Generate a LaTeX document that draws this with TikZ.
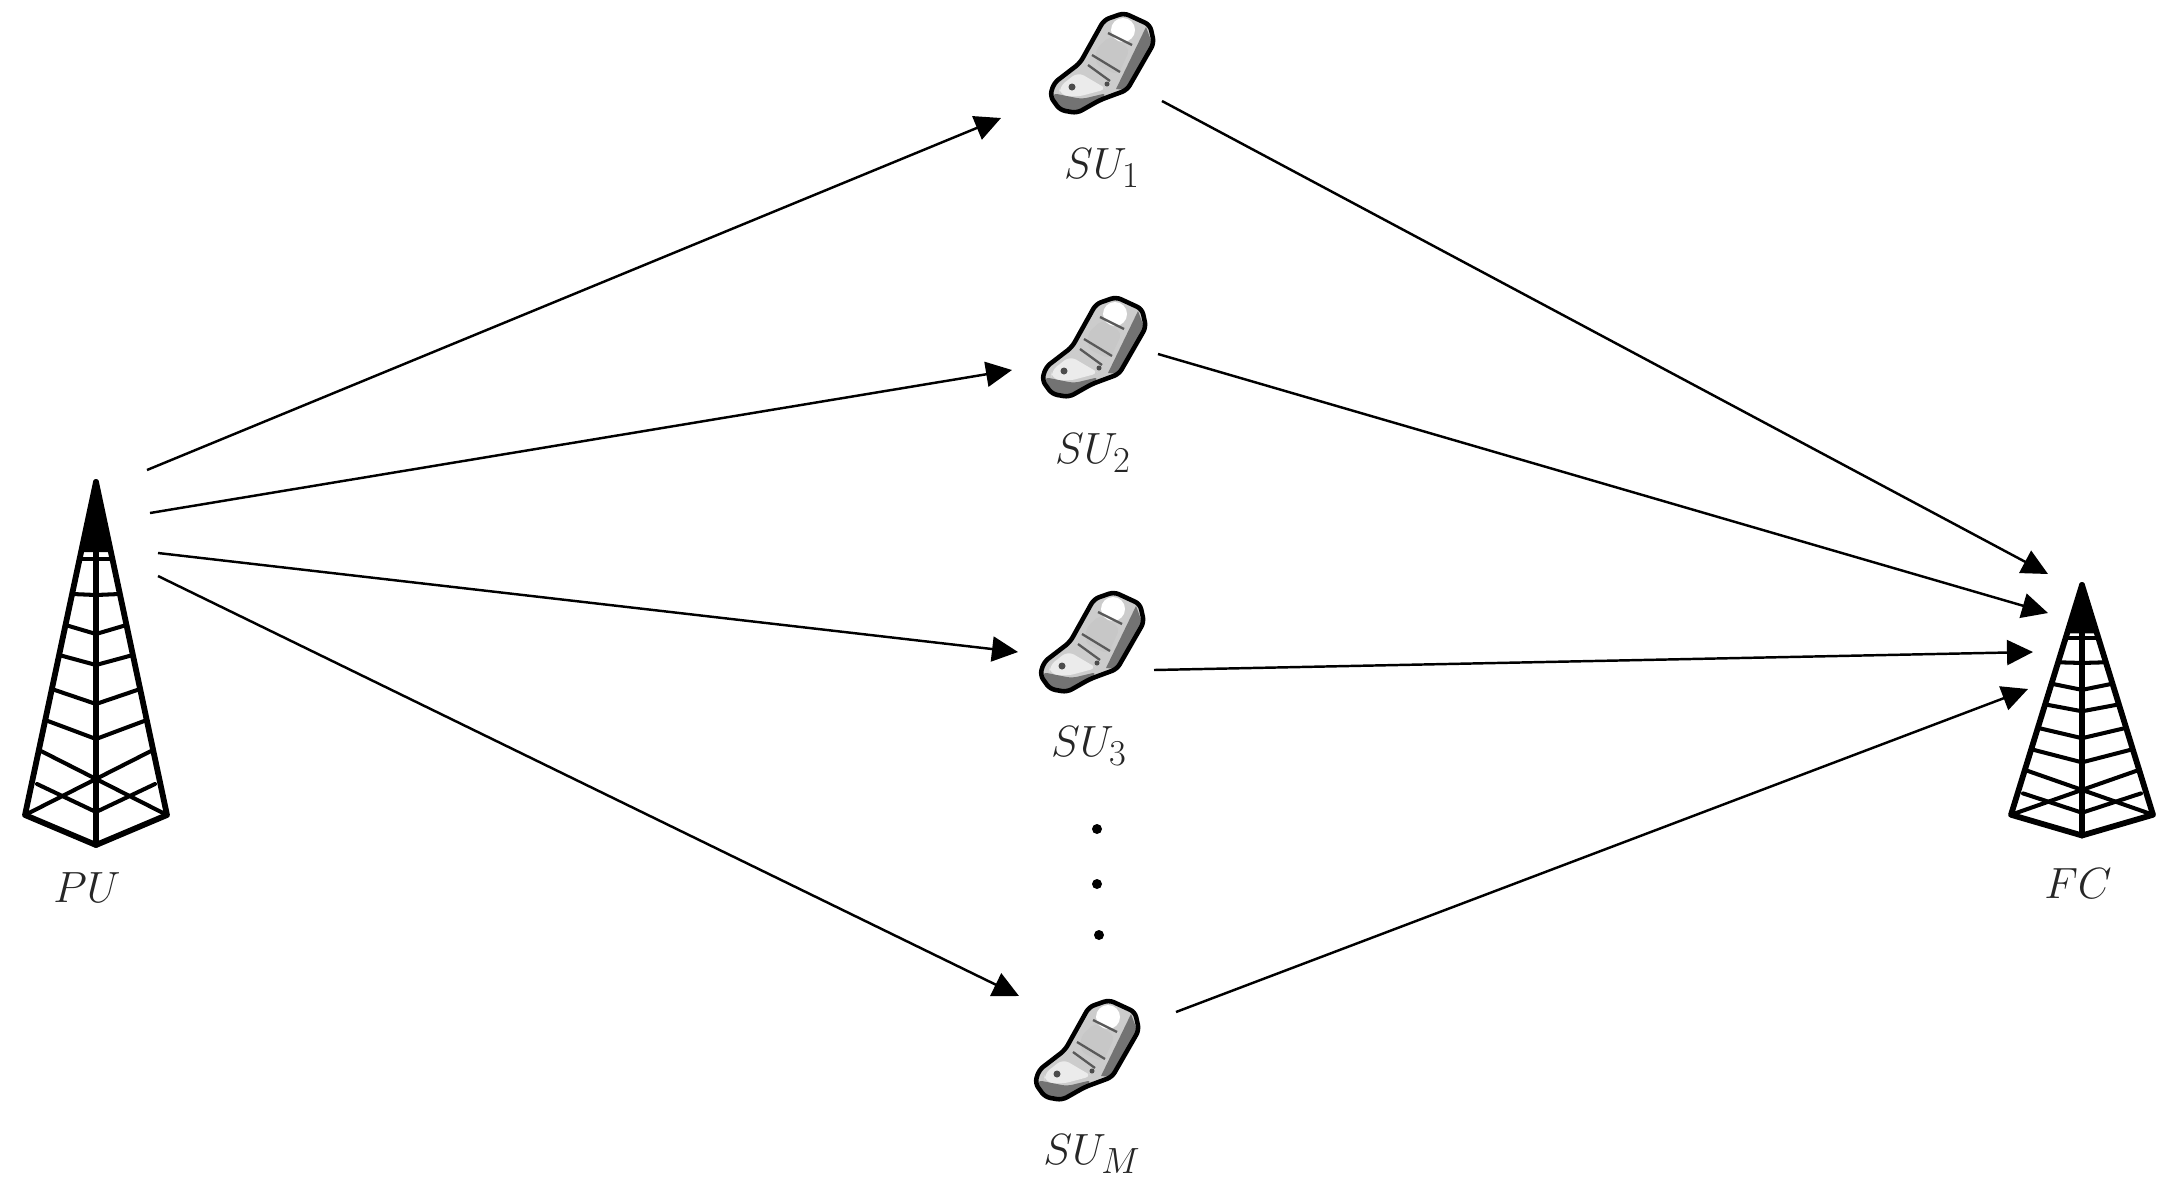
\documentclass[tikz,border=0pt]{standalone}
\usepackage{amsmath}
\usetikzlibrary{arrows.meta}

\begin{document}
\begin{tikzpicture}[x=0.02cm,y=-0.02cm]
	\tikzstyle{link}=[line width=1.4pt,-{Triangle[length=0.52cm,width=0.5cm]}]
	\tikzstyle{lbl}=[inner sep=0pt,text=black!85,font=\Huge]
	\tikzstyle{dot}=[circle,fill=black,minimum size=0.2cm,inner sep=0pt]
	\tikzstyle{thick edge}=[line width=3.3pt,line join=round,line cap=round]
	\tikzstyle{thin edge}=[line width=2.3pt,line cap=round]
	\tikzset{
		tower/.pic={
			\fill (0,0) -- (-15,70) -- (15,70) -- cycle;
			\foreach \yy/\cc in {77/77,112/113,143/152,173/183,207/222,238/257}
				\draw[thin edge] ({-.2132*\yy},\yy) -- (0,\cc) -- ({.2132*\yy},\yy);
			\draw[thin edge] (-57,268) -- (71,333);
			\draw[thin edge] (57,268) -- (-71,333);
			\draw[thin edge] (-59,302) -- (0,330) -- (59,302);
			\draw[thick edge] (0,0) -- (-71,333) -- (0,363) -- (71,333) -- cycle;
			\draw[thick edge] (0,0) -- (0,363);
		},
		phone/.pic={
			\fill[black!20,rounded corners=3pt] (-48,20) -- (-22,0) -- (2,-43) -- (22,-50) -- (48,-38) -- (52,-20) -- (25,27) -- (-2,37) -- (-25,50) -- (-42,47) -- (-52,33) -- cycle;
			\fill[black!55,rounded corners=3pt] (-50,30) -- (-20,36) -- (5,30) -- (-2,37) -- (-25,50) -- (-42,47) -- cycle;
			\fill[black!55] (44,-36) -- (50,-20) -- (25,27) -- (14,26) -- cycle;
			\fill[white] (21,-33) circle (12);
			\fill[black!22,rounded corners=3pt] (-6,-14) -- (8,-27) -- (28,-14) -- (16,12) -- (-6,2) -- cycle;
			\fill[black!8,rounded corners=4pt] (-43,24) -- (-24,9) -- (-2,22) -- (5,26) -- (-25,34) -- (-42,32) -- cycle;
			\draw[black!65,line width=1.3pt] (-10,-8) -- (18,9);
			\draw[black!65,line width=1.3pt] (-14,2) -- (8,18);
			\draw[black!65,line width=1.3pt] (6,-30) -- (30,-18);
			\fill[black!70] (-30,24) circle (3.5);
			\fill[black!70] (5,21) circle (2.5);
			\draw[line width=2.6pt,rounded corners=3pt] (-48,20) -- (-22,0) -- (2,-43) -- (22,-50) -- (48,-38) -- (52,-20) -- (25,27) -- (-2,37) -- (-25,50) -- (-42,47) -- (-52,33) -- cycle;
		}
	}
	\useasboundingbox (0,0) rectangle (2175,1201);
	\pic (PUtower) at (96,482) {tower};
	\pic[yscale=0.69] (FCtower) at (2082,585) {tower};
	\pic (SUa) at (1102,63) {phone};
	\pic (SUb) at (1094,347) {phone};
	\pic (SUc) at (1092,642) {phone};
	\pic (SUm) at (1087,1050) {phone};
	\node[lbl] (PU) at (87,888) {$PU$};
	\node[lbl] (FC) at (2078,884) {$FC$};
	\node[lbl] (su1) at (1102,168) {$SU_1$};
	\node[lbl] (su2) at (1093,453) {$SU_2$};
	\node[lbl] (su3) at (1089,746) {$SU_3$};
	\node[lbl] (sum) at (1092,1154) {$SU_M$};
	\node[dot] (d1) at (1097,829) {};
	\node[dot] (d2) at (1097,884) {};
	\node[dot] (d3) at (1099,935) {};
	\coordinate (pua) at (147,470);
	\coordinate (pub) at (150,513);
	\coordinate (puc) at (158,553);
	\coordinate (pud) at (158,576);
	\coordinate (sua) at (1001,118);
	\coordinate (sub) at (1012,370);
	\coordinate (suc) at (1018,652);
	\coordinate (sud) at (1019,996);
	\coordinate (sue) at (1162,101);
	\coordinate (suf) at (1158,354);
	\coordinate (sug) at (1154,670);
	\coordinate (suh) at (1176,1012);
	\coordinate (fca) at (2048,574);
	\coordinate (fcb) at (2048,613);
	\coordinate (fcc) at (2033,652);
	\coordinate (fcd) at (2028,689);
	\draw[link] (pua) -- (sua);
	\draw[link] (pub) -- (sub);
	\draw[link] (puc) -- (suc);
	\draw[link] (pud) -- (sud);
	\draw[link] (sue) -- (fca);
	\draw[link] (suf) -- (fcb);
	\draw[link] (sug) -- (fcc);
	\draw[link] (suh) -- (fcd);
\end{tikzpicture}
\end{document}
